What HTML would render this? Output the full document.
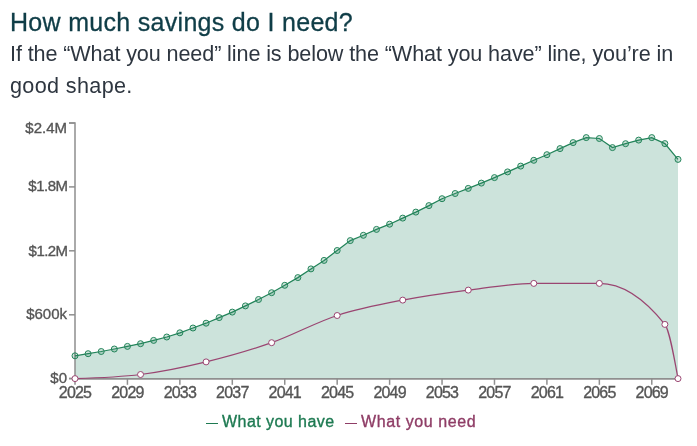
<!DOCTYPE html>
<html><head><meta charset="utf-8"><style>
html,body{margin:0;padding:0;background:#fff;width:697px;height:446px;overflow:hidden}
body{position:relative;font-family:"Liberation Sans",sans-serif}
.h{position:absolute;left:10px;top:7px;font-size:25px;letter-spacing:0.3px;color:#0f3d47;white-space:nowrap;line-height:30px;will-change:transform;-webkit-text-stroke:0.3px currentColor}
.s{position:absolute;left:10px;top:37.5px;font-size:21.6px;letter-spacing:-0.11px;color:#2e3640;white-space:nowrap;line-height:32px;will-change:transform}
svg{position:absolute;left:0;top:0}
.ax{font-family:"Liberation Sans",sans-serif;font-size:15px;fill:#555555;stroke:#555555;stroke-width:0.35px}
.xl{font-size:16px;letter-spacing:-0.8px}
.lg{position:absolute;top:411.5px;font-size:16px;white-space:nowrap;line-height:20px;will-change:transform}
.lg i{position:absolute;left:0;top:10.5px;width:12px;height:1.6px;background:currentColor}
.lg span{position:absolute;left:16px;top:0;-webkit-text-stroke:0.35px currentColor}
</style></head><body>
<div class="h">How much savings do I need?</div>
<div class="s">If the “What you need” line is below the “What you have” line, you’re in<br><span style="letter-spacing:0.35px">good shape.</span></div>
<svg width="697" height="446" viewBox="0 0 697 446">
<path d="M75.00,355.80L88.11,353.70L101.22,351.50L114.33,349.00L127.43,346.40L140.54,343.70L153.65,340.40L166.76,337.00L179.87,332.80L192.98,328.00L206.09,323.20L219.20,317.60L232.30,312.10L245.41,305.90L258.52,299.50L271.63,292.70L284.74,285.30L297.85,277.60L310.96,268.90L324.07,260.40L337.17,250.50L350.28,240.60L363.39,235.30L376.50,229.40L389.61,224.20L402.72,218.10L415.83,212.10L428.93,205.60L442.04,198.70L455.15,193.50L468.26,188.40L481.37,183.10L494.48,177.60L507.59,171.90L520.70,166.10L533.80,160.30L546.91,154.70L560.02,148.60L573.13,142.60L586.24,137.60L599.35,138.50L612.46,147.60L625.57,143.70L638.67,140.10L651.78,137.60L664.89,143.60L678.00,159.40L678.00,378.6L75.00,378.6Z" fill="#cce3db"/>
<path d="M69,123.0H75V378.6H69" fill="none" stroke="#8f8f8f" stroke-width="1.5"/>
<line x1="69" x2="75" y1="123.0" y2="123.0" stroke="#8f8f8f" stroke-width="1.5"/>
<text x="67.00" y="132.60" text-anchor="end" class="ax" style="letter-spacing:0px">$2.4M</text>
<line x1="69" x2="75" y1="186.9" y2="186.9" stroke="#8f8f8f" stroke-width="1.5"/>
<text x="67.50" y="191.40" text-anchor="end" class="ax" style="letter-spacing:-0.5px">$1.8M</text>
<line x1="69" x2="75" y1="250.8" y2="250.8" stroke="#8f8f8f" stroke-width="1.5"/>
<text x="67.55" y="255.80" text-anchor="end" class="ax" style="letter-spacing:-0.55px">$1.2M</text>
<line x1="69" x2="75" y1="314.8" y2="314.8" stroke="#8f8f8f" stroke-width="1.5"/>
<text x="67.00" y="319.40" text-anchor="end" class="ax" style="letter-spacing:0px">$600k</text>
<line x1="69" x2="75" y1="378.6" y2="378.6" stroke="#8f8f8f" stroke-width="1.5"/>
<text x="67.00" y="383.30" text-anchor="end" class="ax" style="letter-spacing:0px">$0</text>
<path d="M75.0,378.8H678.0" fill="none" stroke="#8f8f8f" stroke-width="1.8"/>
<line x1="75.00" x2="75.00" y1="378.6" y2="384.8" stroke="#8f8f8f" stroke-width="1.5"/>
<text x="75.00" y="397.5" text-anchor="middle" class="ax xl">2025</text>
<line x1="127.43" x2="127.43" y1="378.6" y2="384.8" stroke="#8f8f8f" stroke-width="1.5"/>
<text x="127.43" y="397.5" text-anchor="middle" class="ax xl">2029</text>
<line x1="179.87" x2="179.87" y1="378.6" y2="384.8" stroke="#8f8f8f" stroke-width="1.5"/>
<text x="179.87" y="397.5" text-anchor="middle" class="ax xl">2033</text>
<line x1="232.30" x2="232.30" y1="378.6" y2="384.8" stroke="#8f8f8f" stroke-width="1.5"/>
<text x="232.30" y="397.5" text-anchor="middle" class="ax xl">2037</text>
<line x1="284.74" x2="284.74" y1="378.6" y2="384.8" stroke="#8f8f8f" stroke-width="1.5"/>
<text x="284.74" y="397.5" text-anchor="middle" class="ax xl">2041</text>
<line x1="337.17" x2="337.17" y1="378.6" y2="384.8" stroke="#8f8f8f" stroke-width="1.5"/>
<text x="337.17" y="397.5" text-anchor="middle" class="ax xl">2045</text>
<line x1="389.61" x2="389.61" y1="378.6" y2="384.8" stroke="#8f8f8f" stroke-width="1.5"/>
<text x="389.61" y="397.5" text-anchor="middle" class="ax xl">2049</text>
<line x1="442.04" x2="442.04" y1="378.6" y2="384.8" stroke="#8f8f8f" stroke-width="1.5"/>
<text x="442.04" y="397.5" text-anchor="middle" class="ax xl">2053</text>
<line x1="494.48" x2="494.48" y1="378.6" y2="384.8" stroke="#8f8f8f" stroke-width="1.5"/>
<text x="494.48" y="397.5" text-anchor="middle" class="ax xl">2057</text>
<line x1="546.91" x2="546.91" y1="378.6" y2="384.8" stroke="#8f8f8f" stroke-width="1.5"/>
<text x="546.91" y="397.5" text-anchor="middle" class="ax xl">2061</text>
<line x1="599.35" x2="599.35" y1="378.6" y2="384.8" stroke="#8f8f8f" stroke-width="1.5"/>
<text x="599.35" y="397.5" text-anchor="middle" class="ax xl">2065</text>
<line x1="651.78" x2="651.78" y1="378.6" y2="384.8" stroke="#8f8f8f" stroke-width="1.5"/>
<text x="651.78" y="397.5" text-anchor="middle" class="ax xl">2069</text>
<path d="M75.00,355.80L88.11,353.70L101.22,351.50L114.33,349.00L127.43,346.40L140.54,343.70L153.65,340.40L166.76,337.00L179.87,332.80L192.98,328.00L206.09,323.20L219.20,317.60L232.30,312.10L245.41,305.90L258.52,299.50L271.63,292.70L284.74,285.30L297.85,277.60L310.96,268.90L324.07,260.40L337.17,250.50L350.28,240.60L363.39,235.30L376.50,229.40L389.61,224.20L402.72,218.10L415.83,212.10L428.93,205.60L442.04,198.70L455.15,193.50L468.26,188.40L481.37,183.10L494.48,177.60L507.59,171.90L520.70,166.10L533.80,160.30L546.91,154.70L560.02,148.60L573.13,142.60L586.24,137.60L599.35,138.50L612.46,147.60L625.57,143.70L638.67,140.10L651.78,137.60L664.89,143.60L678.00,159.40" fill="none" stroke="#23845a" stroke-width="1.25"/>
<circle cx="75.00" cy="355.80" r="3" fill="rgba(35,132,90,0.22)" stroke="#23845a" stroke-width="1"/>
<circle cx="88.11" cy="353.70" r="3" fill="rgba(35,132,90,0.22)" stroke="#23845a" stroke-width="1"/>
<circle cx="101.22" cy="351.50" r="3" fill="rgba(35,132,90,0.22)" stroke="#23845a" stroke-width="1"/>
<circle cx="114.33" cy="349.00" r="3" fill="rgba(35,132,90,0.22)" stroke="#23845a" stroke-width="1"/>
<circle cx="127.43" cy="346.40" r="3" fill="rgba(35,132,90,0.22)" stroke="#23845a" stroke-width="1"/>
<circle cx="140.54" cy="343.70" r="3" fill="rgba(35,132,90,0.22)" stroke="#23845a" stroke-width="1"/>
<circle cx="153.65" cy="340.40" r="3" fill="rgba(35,132,90,0.22)" stroke="#23845a" stroke-width="1"/>
<circle cx="166.76" cy="337.00" r="3" fill="rgba(35,132,90,0.22)" stroke="#23845a" stroke-width="1"/>
<circle cx="179.87" cy="332.80" r="3" fill="rgba(35,132,90,0.22)" stroke="#23845a" stroke-width="1"/>
<circle cx="192.98" cy="328.00" r="3" fill="rgba(35,132,90,0.22)" stroke="#23845a" stroke-width="1"/>
<circle cx="206.09" cy="323.20" r="3" fill="rgba(35,132,90,0.22)" stroke="#23845a" stroke-width="1"/>
<circle cx="219.20" cy="317.60" r="3" fill="rgba(35,132,90,0.22)" stroke="#23845a" stroke-width="1"/>
<circle cx="232.30" cy="312.10" r="3" fill="rgba(35,132,90,0.22)" stroke="#23845a" stroke-width="1"/>
<circle cx="245.41" cy="305.90" r="3" fill="rgba(35,132,90,0.22)" stroke="#23845a" stroke-width="1"/>
<circle cx="258.52" cy="299.50" r="3" fill="rgba(35,132,90,0.22)" stroke="#23845a" stroke-width="1"/>
<circle cx="271.63" cy="292.70" r="3" fill="rgba(35,132,90,0.22)" stroke="#23845a" stroke-width="1"/>
<circle cx="284.74" cy="285.30" r="3" fill="rgba(35,132,90,0.22)" stroke="#23845a" stroke-width="1"/>
<circle cx="297.85" cy="277.60" r="3" fill="rgba(35,132,90,0.22)" stroke="#23845a" stroke-width="1"/>
<circle cx="310.96" cy="268.90" r="3" fill="rgba(35,132,90,0.22)" stroke="#23845a" stroke-width="1"/>
<circle cx="324.07" cy="260.40" r="3" fill="rgba(35,132,90,0.22)" stroke="#23845a" stroke-width="1"/>
<circle cx="337.17" cy="250.50" r="3" fill="rgba(35,132,90,0.22)" stroke="#23845a" stroke-width="1"/>
<circle cx="350.28" cy="240.60" r="3" fill="rgba(35,132,90,0.22)" stroke="#23845a" stroke-width="1"/>
<circle cx="363.39" cy="235.30" r="3" fill="rgba(35,132,90,0.22)" stroke="#23845a" stroke-width="1"/>
<circle cx="376.50" cy="229.40" r="3" fill="rgba(35,132,90,0.22)" stroke="#23845a" stroke-width="1"/>
<circle cx="389.61" cy="224.20" r="3" fill="rgba(35,132,90,0.22)" stroke="#23845a" stroke-width="1"/>
<circle cx="402.72" cy="218.10" r="3" fill="rgba(35,132,90,0.22)" stroke="#23845a" stroke-width="1"/>
<circle cx="415.83" cy="212.10" r="3" fill="rgba(35,132,90,0.22)" stroke="#23845a" stroke-width="1"/>
<circle cx="428.93" cy="205.60" r="3" fill="rgba(35,132,90,0.22)" stroke="#23845a" stroke-width="1"/>
<circle cx="442.04" cy="198.70" r="3" fill="rgba(35,132,90,0.22)" stroke="#23845a" stroke-width="1"/>
<circle cx="455.15" cy="193.50" r="3" fill="rgba(35,132,90,0.22)" stroke="#23845a" stroke-width="1"/>
<circle cx="468.26" cy="188.40" r="3" fill="rgba(35,132,90,0.22)" stroke="#23845a" stroke-width="1"/>
<circle cx="481.37" cy="183.10" r="3" fill="rgba(35,132,90,0.22)" stroke="#23845a" stroke-width="1"/>
<circle cx="494.48" cy="177.60" r="3" fill="rgba(35,132,90,0.22)" stroke="#23845a" stroke-width="1"/>
<circle cx="507.59" cy="171.90" r="3" fill="rgba(35,132,90,0.22)" stroke="#23845a" stroke-width="1"/>
<circle cx="520.70" cy="166.10" r="3" fill="rgba(35,132,90,0.22)" stroke="#23845a" stroke-width="1"/>
<circle cx="533.80" cy="160.30" r="3" fill="rgba(35,132,90,0.22)" stroke="#23845a" stroke-width="1"/>
<circle cx="546.91" cy="154.70" r="3" fill="rgba(35,132,90,0.22)" stroke="#23845a" stroke-width="1"/>
<circle cx="560.02" cy="148.60" r="3" fill="rgba(35,132,90,0.22)" stroke="#23845a" stroke-width="1"/>
<circle cx="573.13" cy="142.60" r="3" fill="rgba(35,132,90,0.22)" stroke="#23845a" stroke-width="1"/>
<circle cx="586.24" cy="137.60" r="3" fill="rgba(35,132,90,0.22)" stroke="#23845a" stroke-width="1"/>
<circle cx="599.35" cy="138.50" r="3" fill="rgba(35,132,90,0.22)" stroke="#23845a" stroke-width="1"/>
<circle cx="612.46" cy="147.60" r="3" fill="rgba(35,132,90,0.22)" stroke="#23845a" stroke-width="1"/>
<circle cx="625.57" cy="143.70" r="3" fill="rgba(35,132,90,0.22)" stroke="#23845a" stroke-width="1"/>
<circle cx="638.67" cy="140.10" r="3" fill="rgba(35,132,90,0.22)" stroke="#23845a" stroke-width="1"/>
<circle cx="651.78" cy="137.60" r="3" fill="rgba(35,132,90,0.22)" stroke="#23845a" stroke-width="1"/>
<circle cx="664.89" cy="143.60" r="3" fill="rgba(35,132,90,0.22)" stroke="#23845a" stroke-width="1"/>
<circle cx="678.00" cy="159.40" r="3" fill="rgba(35,132,90,0.22)" stroke="#23845a" stroke-width="1"/>
<path d="M75.00,378.60C96.85,377.92,118.70,377.23,140.54,374.50C162.39,371.77,184.24,367.20,206.09,361.90C227.93,356.60,249.78,350.43,271.63,342.70C293.48,334.97,315.33,322.60,337.17,315.50C359.02,308.40,380.87,304.33,402.72,300.10C424.57,295.87,446.41,292.88,468.26,290.10C490.11,287.32,511.96,283.40,533.80,283.40C555.65,283.40,577.50,283.40,599.35,283.40C621.20,283.40,643.04,297.07,664.89,324.40C669.26,329.87,673.63,354.23,678.00,378.60" fill="none" stroke="#9a4571" stroke-width="1.25"/>
<circle cx="75.00" cy="378.6" r="3" fill="#fff" stroke="#9a4571" stroke-width="1"/>
<circle cx="140.54" cy="374.5" r="3" fill="#fff" stroke="#9a4571" stroke-width="1"/>
<circle cx="206.09" cy="361.9" r="3" fill="#fff" stroke="#9a4571" stroke-width="1"/>
<circle cx="271.63" cy="342.7" r="3" fill="#fff" stroke="#9a4571" stroke-width="1"/>
<circle cx="337.17" cy="315.5" r="3" fill="#fff" stroke="#9a4571" stroke-width="1"/>
<circle cx="402.72" cy="300.1" r="3" fill="#fff" stroke="#9a4571" stroke-width="1"/>
<circle cx="468.26" cy="290.1" r="3" fill="#fff" stroke="#9a4571" stroke-width="1"/>
<circle cx="533.80" cy="283.4" r="3" fill="#fff" stroke="#9a4571" stroke-width="1"/>
<circle cx="599.35" cy="283.4" r="3" fill="#fff" stroke="#9a4571" stroke-width="1"/>
<circle cx="664.89" cy="324.4" r="3" fill="#fff" stroke="#9a4571" stroke-width="1"/>
<circle cx="678.00" cy="378.6" r="3" fill="#fff" stroke="#9a4571" stroke-width="1"/>
</svg>
<div class="lg" style="left:206px;color:#1e7a52"><i></i><span style="letter-spacing:0.45px">What you have</span></div>
<div class="lg" style="left:345px;color:#8f3d66"><i></i><span style="letter-spacing:0.58px">What you need</span></div>
</body></html>
